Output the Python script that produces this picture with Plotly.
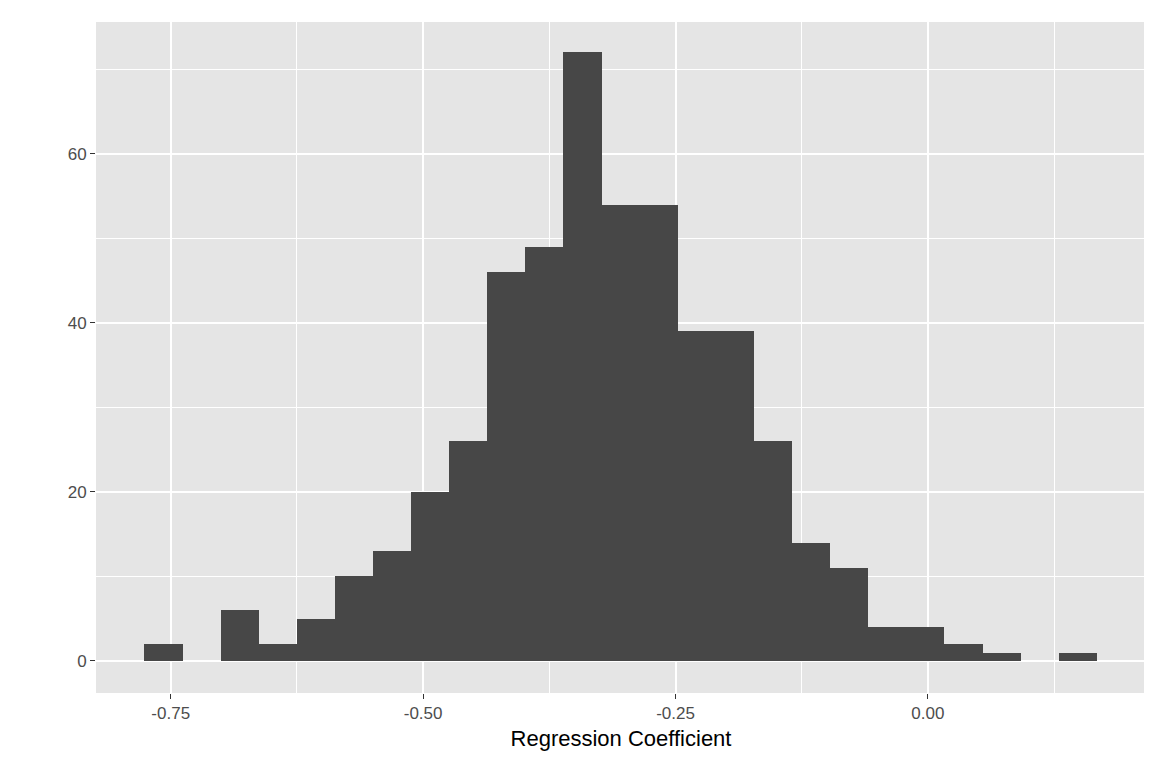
import numpy as np
import plotly.graph_objects as go

counts = [2, 0, 6, 2, 5, 10, 13, 20, 26, 46, 49, 72, 54, 54, 39, 39, 26, 14, 11, 4, 4, 2, 1, 0, 1]
bin_start = -0.776
bin_width = 0.03773
x_ticks = [-0.75, -0.50, -0.25, 0.00]
x_labels = ["-0.75", "-0.50", "-0.25", "0.00"]
y_ticks = [0, 20, 40, 60]

centers = bin_start + bin_width * (np.arange(len(counts)) + 0.5)

fig = go.Figure(go.Bar(x=centers, y=counts, width=bin_width, marker=dict(color="#474747", line=dict(width=0))))
fig.update_layout(
    width=1152, height=768, margin=dict(l=88, r=14, t=14, b=83, autoexpand=False),
    paper_bgcolor="white", plot_bgcolor="#e5e5e5", bargap=0, showlegend=False,
    font=dict(family="Liberation Sans, Arial", size=17, color="#4d4d4d"),
)
fig.update_xaxes(range=[-0.824, 0.216], tickvals=x_ticks, ticktext=x_labels, automargin=False,
                 gridcolor="white", gridwidth=2, zeroline=False, ticks="outside", ticklen=5,
                 tickcolor="#333", minor=dict(dtick=0.125, gridcolor="white", gridwidth=1, showgrid=True),
                 title=dict(text="Regression Coefficient", font=dict(size=22, color="black"), standoff=8))
fig.update_yaxes(range=[-3.79, 75.6], tickvals=y_ticks, gridcolor="white", gridwidth=2, zeroline=False,
                 ticks="outside", ticklen=5, tickcolor="#333", automargin=False,
                 minor=dict(tickvals=[10, 30, 50, 70], gridcolor="white", gridwidth=1, showgrid=True))
fig.write_html("out.html")
